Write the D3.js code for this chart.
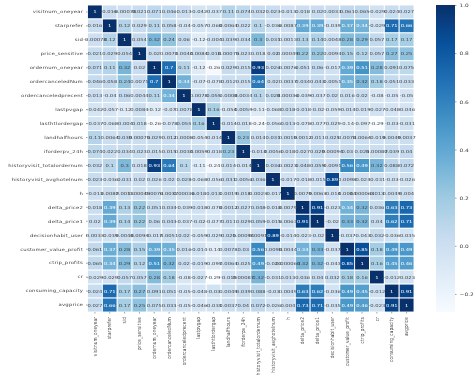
<!DOCTYPE html>
<html><head><meta charset="utf-8">
<script src="https://cdn.jsdelivr.net/npm/d3@7"></script>
<style>html,body{margin:0;padding:0;background:#fff;overflow:hidden}
svg{display:block;filter:blur(0.4px)} text{font-family:"DejaVu Sans",sans-serif}</style>
</head><body><svg id="c" width="474" height="379"></svg>
<script>
const variables = ["visitnum_oneyear","starprefer","sid","price_sensitive","ordernum_oneyear","ordercanceledNum","ordercanceledprecent","lastpvgap","lasthtlordergap","landhalfhours","iforderpv_24h","historyvisit_totalordernum","historyvisit_avghotelnum","h","delta_price2","delta_price1","decisionhabit_user","customer_value_profit","ctrip_profits","cr","consuming_capacity","avgprice"];
const corr = [
[1,0.016,-0.00078,0.021,0.071,0.046,0.013,-0.042,-0.037,0.11,0.074,0.032,0.023,-0.013,0.018,0.02,0.0033,0.061,0.065,-0.029,0.024,0.027],
[0.016,1,0.12,0.029,0.11,0.058,-0.04,-0.057,-0.068,0.0064,0.022,0.1,-0.036,0.0087,0.39,0.39,-0.039,0.37,0.34,-0.029,0.71,0.66],
[-0.00078,0.12,1,0.054,0.32,0.24,0.06,-0.12,-0.004,0.039,0.034,0.3,0.031,0.0013,0.13,0.14,0.0048,0.28,0.29,0.057,0.17,0.17],
[0.021,0.029,0.054,1,0.02,0.0071,0.0044,0.0084,0.018,0.00075,0.023,0.018,0.02,0.00049,0.22,0.22,0.0094,0.15,0.12,0.057,0.27,0.25],
[0.071,0.11,0.32,0.02,1,0.7,0.11,-0.12,-0.26,0.029,0.015,0.93,0.026,0.0076,0.051,0.06,-0.017,0.39,0.51,0.28,0.091,0.075],
[0.046,0.058,0.24,0.0071,0.7,1,0.34,-0.07,-0.078,0.012,0.015,0.64,0.02,0.0037,0.034,0.043,0.0051,0.35,0.32,0.18,0.051,0.033],
[0.013,-0.04,0.06,0.0044,0.11,0.34,1,0.0078,0.055,0.0008,0.0034,0.1,0.028,0.00036,-0.039,-0.037,0.02,0.016,0.02,-0.08,-0.05,-0.05],
[-0.042,-0.057,-0.12,0.0084,-0.12,-0.07,0.0078,1,0.16,-0.054,0.0059,-0.11,-0.068,0.018,-0.018,-0.02,-0.059,-0.014,-0.019,-0.027,-0.048,-0.046],
[-0.037,-0.068,-0.004,0.018,-0.26,-0.078,0.055,0.16,1,-0.014,-0.018,-0.24,-0.056,0.013,-0.078,-0.077,-0.029,-0.14,-0.097,-0.29,-0.03,-0.031],
[0.11,0.0064,0.039,0.00075,0.029,0.012,0.0008,-0.054,-0.014,1,0.23,0.014,0.031,0.0019,0.0012,0.011,0.025,0.0078,0.0064,-0.019,0.0049,0.0037],
[0.074,0.022,0.034,0.023,0.015,0.015,0.0034,0.0059,-0.018,0.23,1,-0.014,0.0056,0.018,0.027,0.029,0.00094,0.03,0.025,0.00087,0.039,0.04],
[0.032,0.1,0.3,0.018,0.93,0.64,0.1,-0.11,-0.24,0.014,-0.014,1,0.036,0.0023,0.048,0.059,0.0091,0.56,0.49,0.32,0.088,0.072],
[0.023,-0.036,0.031,0.02,0.026,0.02,0.028,-0.068,-0.056,0.031,0.0056,0.036,1,-0.017,-0.018,-0.015,0.89,0.0098,-0.024,-0.031,-0.03,-0.026],
[-0.013,0.0087,0.0013,0.00049,0.0076,0.0037,0.00036,0.018,0.013,0.0019,0.018,0.0023,-0.017,1,0.0079,0.0063,-0.014,0.0044,0.000064,0.013,0.0049,0.004],
[0.018,0.39,0.13,0.22,0.051,0.034,-0.039,-0.018,-0.078,0.0012,0.027,0.048,-0.018,0.0079,1,0.91,-0.023,0.34,0.32,0.036,0.63,0.73],
[0.02,0.39,0.14,0.22,0.06,0.043,-0.037,-0.02,-0.077,0.011,0.029,0.059,-0.015,0.0063,0.91,1,-0.02,0.33,0.32,0.04,0.62,0.71],
[0.0033,-0.039,0.0048,0.0094,-0.017,0.0051,0.02,-0.059,-0.029,0.025,0.00094,0.0091,0.89,-0.014,-0.023,-0.02,1,-0.037,-0.043,0.032,-0.036,-0.035],
[0.061,0.37,0.28,0.15,0.39,0.35,0.016,-0.014,-0.14,0.0078,0.03,0.56,0.0098,0.0044,0.34,0.33,-0.037,1,0.85,0.18,0.49,0.49],
[0.065,0.34,0.29,0.12,0.51,0.32,0.02,-0.019,-0.097,0.0064,0.025,0.49,-0.024,0.000064,0.32,0.32,-0.043,0.85,1,0.16,0.45,0.46],
[-0.029,-0.029,0.057,0.057,0.28,0.18,-0.08,-0.027,-0.29,-0.019,0.00087,0.32,-0.031,0.013,0.036,0.04,0.032,0.18,0.16,1,-0.012,-0.023],
[0.024,0.71,0.17,0.27,0.091,0.051,-0.05,-0.048,-0.03,0.0049,0.039,0.088,-0.03,0.0049,0.63,0.62,-0.036,0.49,0.45,-0.012,1,0.91],
[0.027,0.66,0.17,0.25,0.075,0.033,-0.05,-0.046,-0.031,0.0037,0.04,0.072,-0.026,0.004,0.73,0.71,-0.035,0.49,0.46,-0.023,0.91,1]];
const colorbarTicks = [1,0.8,0.6,0.4,0.2,0,-0.2];
const blues = ["#f7fbff","#deebf7","#c6dbef","#9ecae1","#6baed6","#4292c6","#2171b5","#08519c","#08306b"];

const vmin = -0.275, vmax = 1;
const plot = {left:87.5, right:414, top:5, bottom:312};
const bar = {left:436, right:455};
const sx = 1.28;

const color = d3.scaleLinear()
  .domain(blues.map((_,i)=>vmin+(vmax-vmin)*i/(blues.length-1)))
  .range(blues).interpolate(d3.interpolateRgb);

const svg = d3.select("#c");
const x = d3.scaleBand().domain(variables).range([plot.left,plot.right]);
const y = d3.scaleBand().domain(variables).range([plot.top,plot.bottom]);
const fmt = v => d3.format(".2~g")(v).replace("\u2212","-");
const cells = corr.flatMap((row,r)=>row.map((v,c)=>({r:variables[r],c:variables[c],v})));

svg.append("g").selectAll("rect").data(cells).join("rect")
  .attr("x",d=>x(d.c)).attr("y",d=>y(d.r))
  .attr("width",x.bandwidth()).attr("height",y.bandwidth())
  .attr("fill",d=>color(d.v)).attr("stroke","#fff").attr("stroke-width",0.9);

function lum(c){const q=d3.rgb(c);const f=u=>{u/=255;return u<=0.03928?u/12.92:Math.pow((u+0.055)/1.055,2.4)};
  return 0.2126*f(q.r)+0.7152*f(q.g)+0.0722*f(q.b);}

svg.append("g").selectAll("text").data(cells).join("text")
  .attr("transform",d=>`translate(${x(d.c)+x.bandwidth()/2},${y(d.r)+y.bandwidth()/2}) scale(${sx},1)`)
  .attr("text-anchor","middle").attr("dy","0.36em")
  .attr("font-size",4.1)
  .attr("fill",d=>lum(color(d.v))<0.408?"#fff":"#444")
  .text(d=>fmt(d.v));

const yAxis = svg.append("g").attr("transform",`translate(${plot.left},0)`)
  .call(d3.axisLeft(y).tickSize(1.5).tickPadding(3));
yAxis.select(".domain").remove();
yAxis.selectAll("line").attr("stroke","#444").attr("stroke-width",0.5);
yAxis.selectAll("text").attr("font-size",4.2).attr("fill","#444").attr("x",null).attr("dy",null)
  .attr("text-anchor","end").attr("dominant-baseline","central")
  .attr("transform",`translate(-4.5,0) scale(${sx},1)`).attr("letter-spacing",0.12);

const xAxis = svg.append("g").attr("transform",`translate(0,${plot.bottom})`)
  .call(d3.axisBottom(x).tickSize(1.5).tickPadding(3));
xAxis.select(".domain").remove();
xAxis.selectAll("line").attr("stroke","#444").attr("stroke-width",0.5);
xAxis.selectAll("text").attr("font-size",4.2).attr("fill","#444").attr("y",null).attr("dy",null)
  .attr("text-anchor","end").attr("dominant-baseline","central")
  .attr("transform",`translate(0,5) scale(${sx},1) rotate(-90)`).attr("letter-spacing",0.12);

const cy = d3.scaleLinear().domain([vmin,vmax]).range([plot.bottom,plot.top]);
const barStops = d3.range(cy.range()[1],cy.range()[0]);
svg.append("g").selectAll("rect").data(barStops).join("rect")
  .attr("x",bar.left).attr("width",bar.right-bar.left)
  .attr("y",d=>d).attr("height",1.2)
  .attr("fill",d=>color(cy.invert(d+0.5)));
const cAxis = svg.append("g").attr("transform",`translate(${bar.right},0)`)
  .call(d3.axisRight(cy).tickValues(colorbarTicks).tickSize(1.5).tickPadding(3).tickFormat(d3.format(".1f")));
cAxis.select(".domain").remove();
cAxis.selectAll("line").attr("stroke","#444").attr("stroke-width",0.5);
cAxis.selectAll("text").attr("font-size",4.6).attr("fill","#444").attr("x",null).attr("dy",null)
  .attr("dominant-baseline","central")
  .attr("transform",`translate(4.5,0) scale(${sx},1)`);
</script></body></html>
